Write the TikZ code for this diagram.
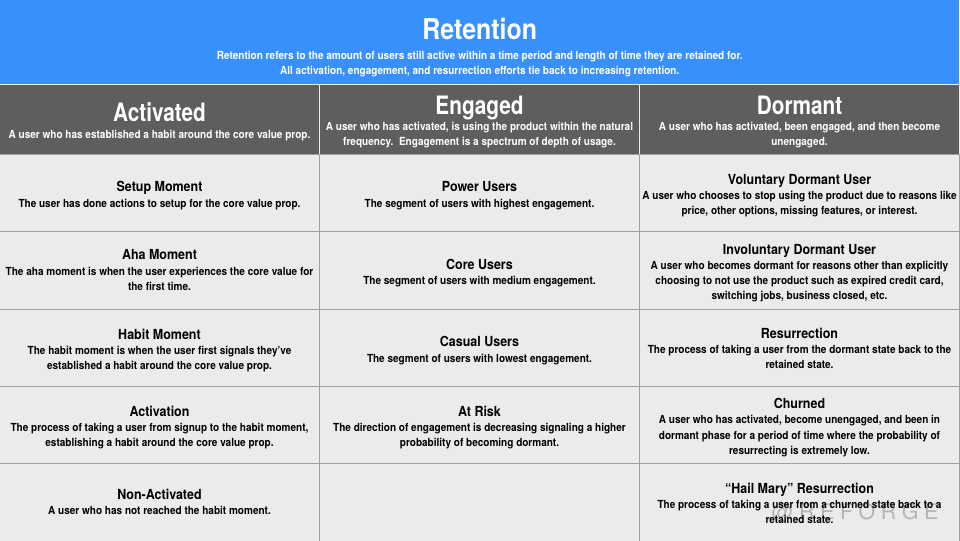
\documentclass[tikz,border=0pt]{standalone}
\usepackage{fontspec}
\setmainfont{TeX Gyre Heros}[BoldFont={* Bold}, BoldFeatures={FakeStretch=0.9}]
\newfontfamily\headfont{TeX Gyre Heros Bold}[FakeStretch=0.82]
\newfontfamily\bannerfont{TeX Gyre Heros Bold}[FakeStretch=0.87]
\newfontfamily\markfont{TeX Gyre Heros}[LetterSpace=27]
\usepackage{tikz}
\definecolor{bannerblue}{HTML}{3890FC}
\definecolor{headgray}{HTML}{5E5E5E}
\definecolor{cellgray}{HTML}{EBEBEB}
\definecolor{rulegray}{HTML}{A0A0A0}
\definecolor{markgray}{HTML}{C4C4C4}
\newcommand{\bigtitle}[1]{{\headfont\fontsize{19}{24}\selectfont\rule{0pt}{17.7pt}#1}\\[1pt]}
\newcommand{\celltitle}[1]{{\fontsize{10.4}{12.5}\selectfont\rule{0pt}{12pt}#1}\\}
\newcommand{\lift}[1]{\rule[-#1]{0pt}{#1}}
\tikzset{
    cell/.style = {shape = rectangle, fill = cellgray, draw = rulegray, line width = 0.6pt, minimum width = 240pt, inner sep = 0pt, align = center, font = \bfseries\fontsize{8.35}{11.4}\selectfont, text = black},
    head/.style = {cell, fill = headgray, draw = cellgray, text = white, minimum height = 52.5pt},
    banner/.style = {shape = rectangle, fill = bannerblue, minimum width = 719.6pt, minimum height = 63pt, inner sep = 0pt, align = center, font = \bfseries\fontsize{8.35}{10.9}\selectfont, text = white}
}
\begin{document}
\begin{tikzpicture}[x = 0.75pt, y = -0.75pt]
    \useasboundingbox (0,0) rectangle (960,540);
    \node [banner] (Retention) at (479.75,42.3) {{\bannerfont\fontsize{21.5}{27}\selectfont\rule{0pt}{23.6pt}Retention}\\[4.1pt]
        Retention refers to the amount of users still active within a time period and length of time they are retained for.\\
        All activation, engagement, and resurrection efforts tie back to increasing retention.};

    \node [head] (Activated) at (159.5,119.3) {\bigtitle{Activated}A user who has established a habit around the core value prop.};
    \node [head] (Engaged) at (479.5,119.3) {\bigtitle{Engaged}A user who has activated, is using the product within the natural\\frequency.\ \ Engagement is a spectrum of depth of usage.};
    \node [head] (Dormant) at (799.5,119.3) {\bigtitle{Dormant}A user who has activated, been engaged, and then become\\unengaged.};

    \node [cell, minimum height = 57.75pt] (Setup) at (159.5,192.8) {\celltitle{Setup Moment}The user has done actions to setup for the core value prop.};
    \node [cell, minimum height = 58.5pt] (Aha) at (159.5,270.3) {\celltitle{Aha Moment}The aha moment is when the user experiences the core value for\\the first time.\lift{4.7pt}};
    \node [cell, minimum height = 57.75pt] (Habit) at (159.5,347.8) {\celltitle{Habit Moment}The habit moment is when the user first signals they've\\established a habit around the core value prop.};
    \node [cell, minimum height = 57.75pt] (Activation) at (159.5,424.8) {\celltitle{Activation}The process of taking a user from signup to the habit moment,\\establishing a habit around the core value prop.};
    \node [cell, minimum height = 59pt] (NonActivated) at (159.5,502.7) {\celltitle{Non-Activated}A user who has not reached the habit moment.\lift{5.2pt}};

    \node [cell, minimum height = 57.75pt] (Power) at (479.5,192.8) {\celltitle{Power Users}The segment of users with highest engagement.};
    \node [cell, minimum height = 58.5pt] (Core) at (479.5,270.3) {\celltitle{Core Users}The segment of users with medium engagement.};
    \node [cell, minimum height = 57.75pt] (Casual) at (479.5,347.8) {\celltitle{Casual Users}The segment of users with lowest engagement.};
    \node [cell, minimum height = 57.75pt] (AtRisk) at (479.5,424.8) {\celltitle{At Risk}The direction of engagement is decreasing signaling a higher\\probability of becoming dormant.};
    \node [cell, minimum height = 59pt] (Blank) at (479.5,502.7) {};

    \node [cell, minimum height = 57.75pt] (Voluntary) at (799.5,192.8) {\celltitle{Voluntary Dormant User}A user who chooses to stop using the product due to reasons like\\price, other options, missing features, or interest.};
    \node [cell, minimum height = 58.5pt] (Involuntary) at (799.5,270.3) {\celltitle{Involuntary Dormant User}A user who becomes dormant for reasons other than explicitly\\choosing to not use the product such as expired credit card,\\switching jobs, business closed, etc.};
    \node [cell, minimum height = 57.75pt] (Resurrection) at (799.5,347.8) {\celltitle{Resurrection}The process of taking a user from the dormant state back to the\\retained state.\lift{3.2pt}};
    \node [cell, minimum height = 57.75pt] (Churned) at (799.5,424.8) {\celltitle{Churned}A user who has activated, become unengaged, and been in\\dormant phase for a period of time where the probability of\\resurrecting is extremely low.};
    \node [cell, minimum height = 59pt] (HailMary) at (799.5,502.7) {\celltitle{``Hail Mary'' Resurrection}The process of taking a user from a churned state back to a\\retained state.\lift{3.7pt}};

    \node [text = markgray, font = \markfont\fontsize{16}{16}\selectfont, blend mode = multiply] (Reforge) at (855,513) {@REFORGE};
\end{tikzpicture}
\end{document}
